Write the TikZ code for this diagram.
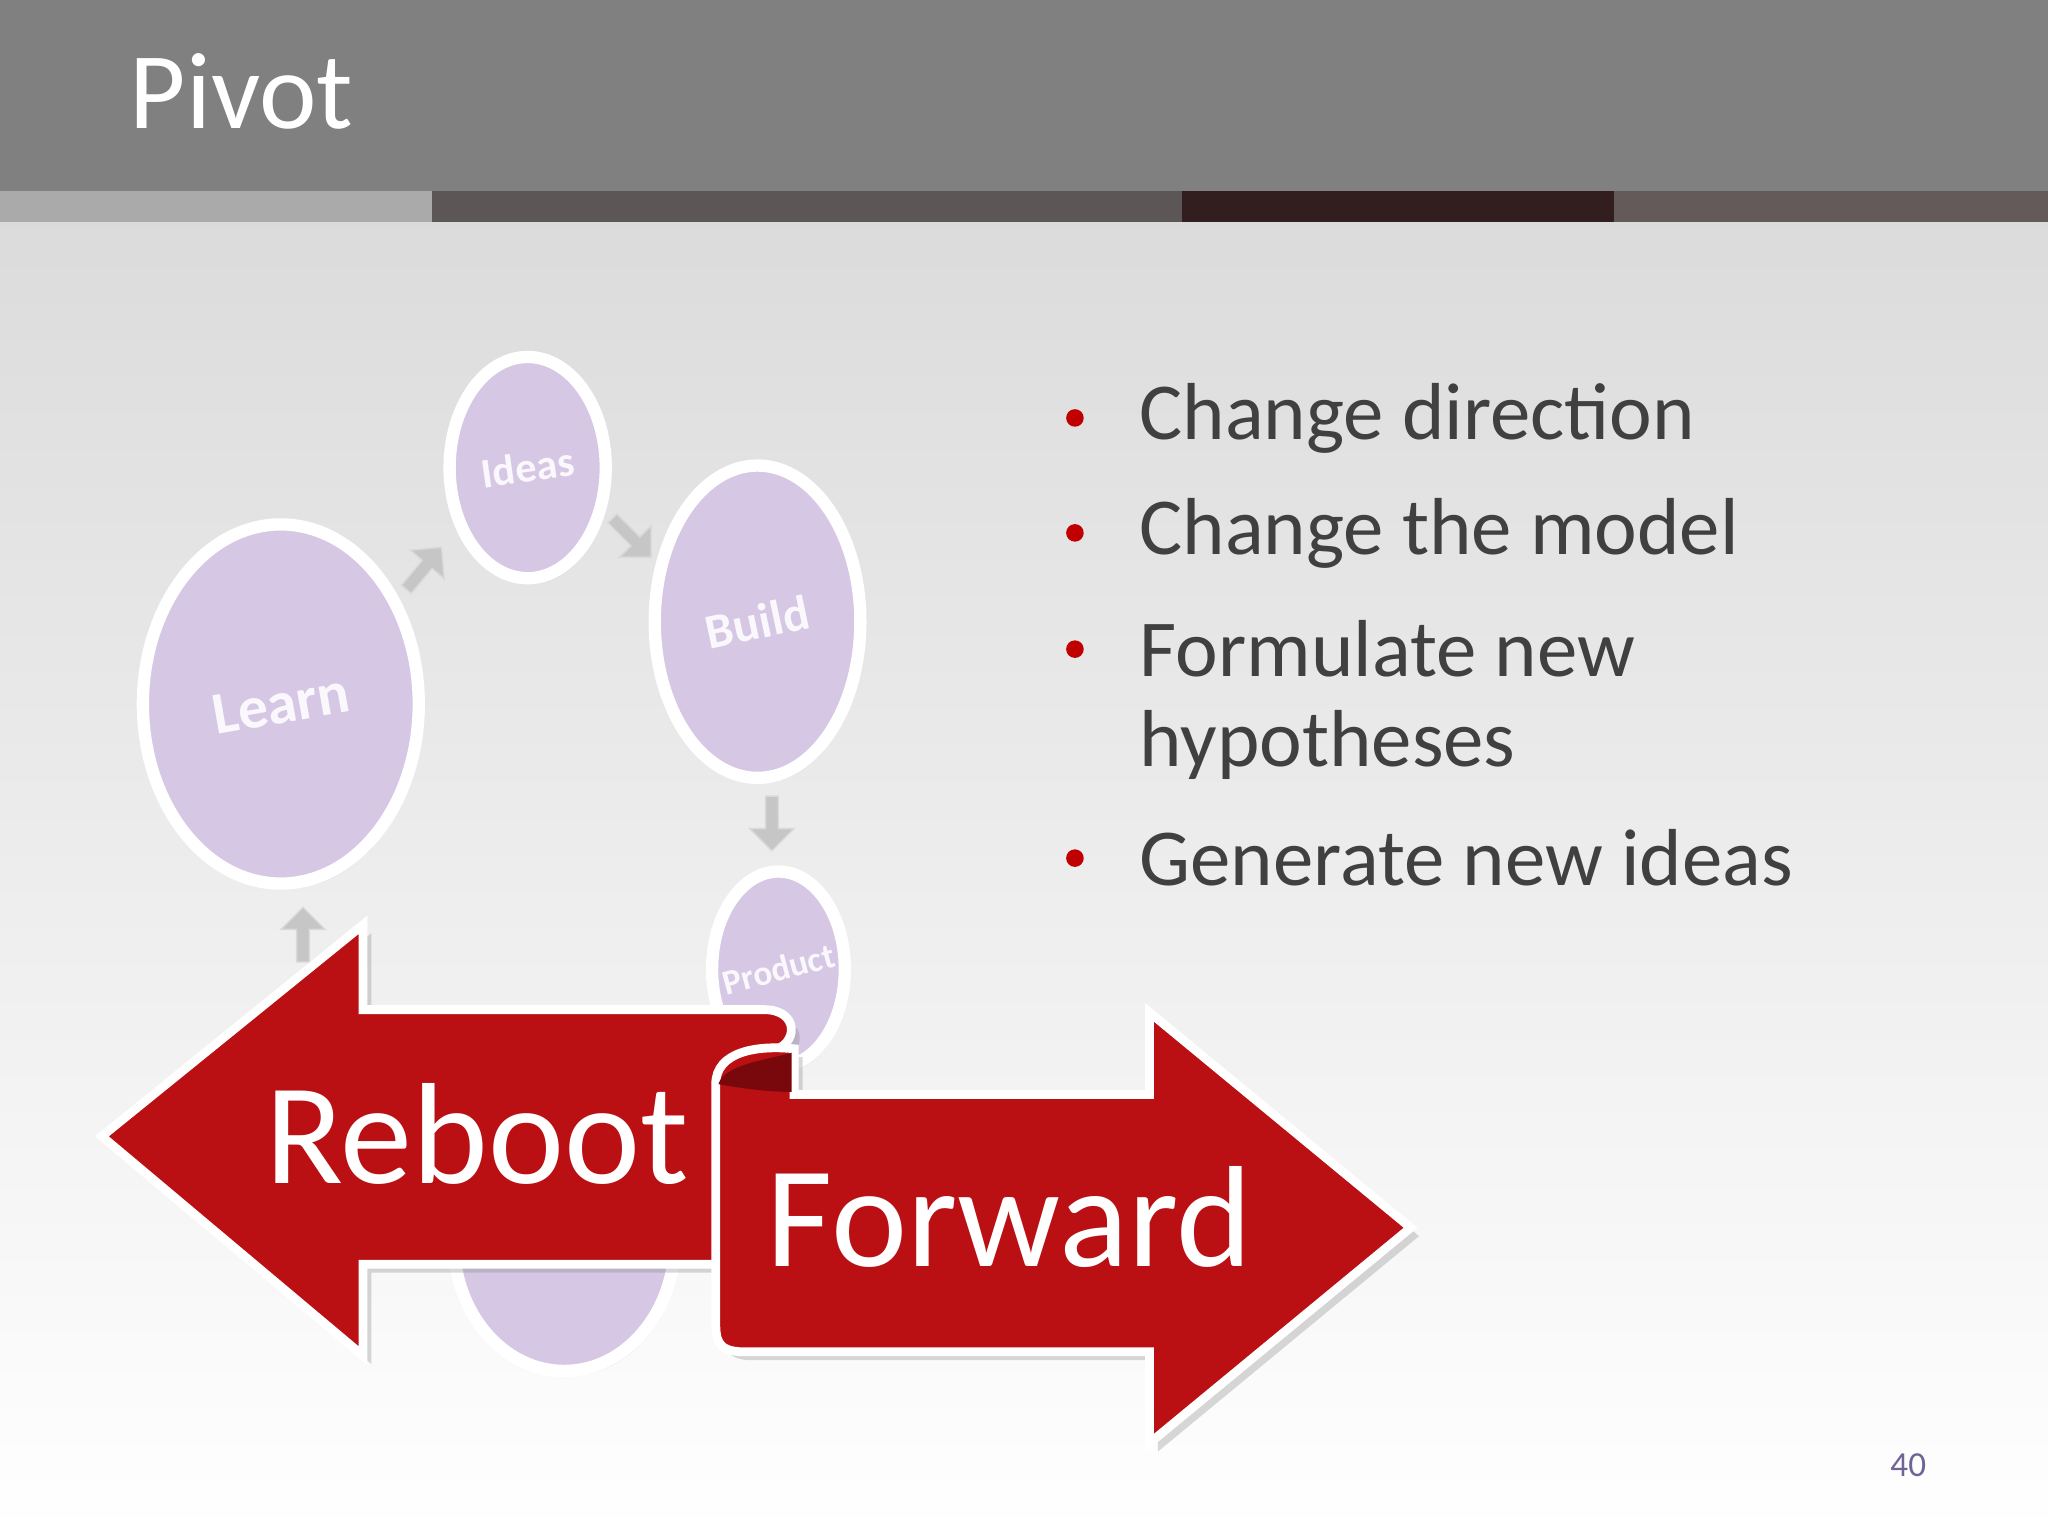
\documentclass[tikz,border=0pt]{standalone}
\usepackage{fontspec}
\setmainfont{Carlito}
\usetikzlibrary{shapes.arrows,shadows,shapes.geometric}
\definecolor{lav}{RGB}{214,200,228}
\definecolor{lavtxt}{RGB}{250,248,252}
\definecolor{redar}{RGB}{186,16,20}
\definecolor{reddk}{RGB}{120,8,12}
\definecolor{txt}{RGB}{64,64,64}
\definecolor{bul}{RGB}{192,0,0}
\definecolor{titlebg}{RGB}{128,128,128}
\definecolor{s1}{RGB}{170,170,170}
\definecolor{s2}{RGB}{92,86,86}
\definecolor{s3}{RGB}{50,30,30}
\definecolor{s4}{RGB}{100,90,90}
\definecolor{pagec}{RGB}{112,100,150}
\tikzset{
 circ/.style={ellipse,fill=lav,draw=white,line width=3.5pt,drop shadow={opacity=0.25,shadow xshift=1pt,shadow yshift=-1.5pt}},
 clab/.style={text=lavtxt},
 garrow/.style={single arrow,fill=gray!45,draw=gray!30,minimum height=42*0.3703pt,minimum width=34*0.3703pt,single arrow head extend=3pt,inner sep=1pt},
 bigar/.style={fill=redar,draw=white,line width=2.5pt,line join=miter,drop shadow={opacity=0.3}},
 bullet/.style={anchor=west,text=txt,font=\fontsize{23}{27}\selectfont},
 dot/.style={circle,fill=bul,inner sep=0pt,minimum size=5pt}
}
\begin{document}
\begin{tikzpicture}[x=0.013061cm,y=-0.013061cm]
\useasboundingbox (0,0) rectangle (1568,1176);
\shade[top color=black!14,bottom color=white] (0,170) rectangle (1568,1176);
\fill[titlebg] (0,0) rectangle (1568,146);
\fill[s1] (0,146) rectangle (331,170);
\fill[s2] (331,146) rectangle (905,170);
\fill[s3] (905,146) rectangle (1236,170);
\fill[s4] (1236,146) rectangle (1568,170);
\node[anchor=west,text=white,font=\fontsize{31}{36}\selectfont] (title) at (90,70) {Pivot};
% circles
\node[circ,minimum width=120*0.3703pt,minimum height=170*0.3703pt] (ideas) at (404,358) {};
\node[clab,rotate=8,font=\bfseries\fontsize{12}{14}\selectfont] at (ideas) {Ideas};
\node[circ,minimum width=212*0.3703pt,minimum height=276*0.3703pt] (learn) at (215,539) {};
\node[clab,rotate=10,font=\bfseries\fontsize{17}{20}\selectfont] at (learn) {Learn};
\node[circ,minimum width=158*0.3703pt,minimum height=240*0.3703pt] (build) at (580,476) {};
\node[clab,rotate=12,font=\bfseries\fontsize{14}{16}\selectfont] at (build) {Build};
\node[circ,minimum width=102*0.3703pt,minimum height=150*0.3703pt] (product) at (596,742) {};
\node[clab,rotate=15,font=\bfseries\fontsize{10}{12}\selectfont] at (product) {Product};
\node[circ,minimum width=170*0.3703pt,minimum height=200*0.3703pt] (measure) at (432,950) {};
% small arrows
\node[garrow,rotate=50] (a1) at (323,437) {};
\node[garrow,rotate=-45] (a2) at (482,410) {};
\node[garrow,rotate=-90] (a3) at (591,628) {};
\node[garrow,rotate=90] (a4) at (232,718) {};
% Reboot arrow
\filldraw[bigar] (78,870) -- (278,708) -- (278,773) -- (585,773)
  .. controls (612,773) and (612,800) .. (590,805) -- (590,968) -- (278,968) -- (278,1038) -- cycle;
\node[text=white,font=\fontsize{41}{46}\selectfont] (reboot) at (365,868) {Reboot};
% Forward arrow
\filldraw[bigar] (548,830) .. controls (548,805) and (580,800) .. (608,803) -- (608,838) -- (880,838) -- (880,775) -- (1080,940) -- (880,1105) -- (880,1035) -- (570,1035)
  .. controls (548,1035) and (548,1025) .. (548,1010) -- cycle;
\fill[reddk] (550,830) .. controls (555,815) and (585,812) .. (606,806) -- (606,836) .. controls (585,836) and (560,832) .. (550,830);
\node[text=white,font=\fontsize{41}{46}\selectfont] (forward) at (773,932) {Forward};
% bullets
\foreach \y/\t/\n in {320/Change direction/b1, 408/Change the model/b2, 497/Formulate new/b3, 657/Generate new ideas/b5}{
  \node[dot] (d\n) at (823,\y) {};
  \node[bullet] (\n) at (863,\y) {\t};
}
\node[bullet] (b4) at (863,570) {hypotheses};
\node[text=pagec,font=\fontsize{10}{12}\selectfont] (page) at (1461,1122) {40};
\end{tikzpicture}
\end{document}
